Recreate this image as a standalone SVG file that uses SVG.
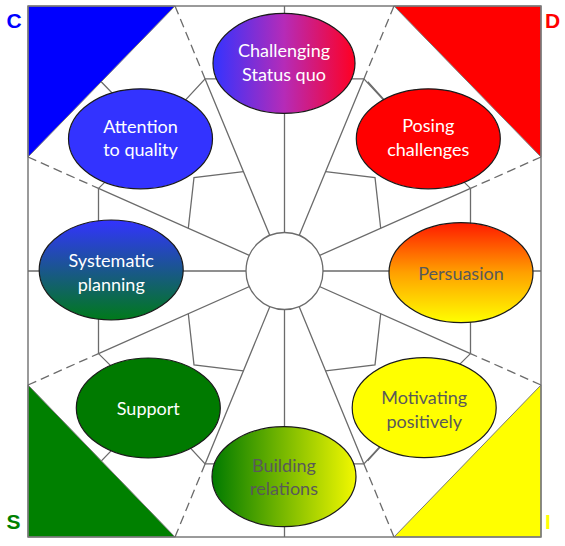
<svg xmlns="http://www.w3.org/2000/svg" width="565" height="546" viewBox="0 0 565 546">
<defs>
<style>
.ln{fill:none;stroke:#6b6b6b;stroke-width:1.3}
.dash{fill:none;stroke:#6b6b6b;stroke-width:1.3;stroke-dasharray:9,5}
.tri{stroke:#7a7a7a;stroke-width:1}
.el{stroke:#1a1a1a;stroke-width:1.2}
.t{font-family:Lato,"Open Sans","Liberation Sans",sans-serif;font-size:18px;text-anchor:middle}
.w{fill:#ffffff}
.g{fill:#595959}
.big{font-family:"Liberation Sans",Arial,sans-serif;font-weight:bold;font-size:21px}
</style>
<linearGradient id="gChal" x1="0" y1="0" x2="1" y2="0">
<stop offset="0" stop-color="#3333FF"/><stop offset="0.5" stop-color="#B52BB8"/><stop offset="1" stop-color="#FF0022"/>
</linearGradient>
<linearGradient id="gSys" x1="0" y1="0" x2="0" y2="1">
<stop offset="0" stop-color="#3333FF"/><stop offset="1" stop-color="#007A1A"/>
</linearGradient>
<linearGradient id="gPers" x1="0" y1="0" x2="0" y2="1">
<stop offset="0" stop-color="#FF1A00"/><stop offset="0.5" stop-color="#FFA000"/><stop offset="1" stop-color="#FFFF00"/>
</linearGradient>
<linearGradient id="gBuild" x1="0" y1="0" x2="1" y2="0">
<stop offset="0" stop-color="#007A00"/><stop offset="1" stop-color="#F2F800"/>
</linearGradient>
</defs>
<rect width="565" height="546" fill="#ffffff"/>
<g id="corners">
<polygon class="tri" points="28,6 175,6 28,157" fill="#0000FF"/>
<polygon class="tri" points="394,6 541,6 541,157" fill="#FF0000"/>
<polygon class="tri" points="28,385 28,537 175,537" fill="#008000"/>
<polygon class="tri" points="541,385 541,537 394,537" fill="#FFFF00"/>
</g>
<rect id="frame" x="28" y="6" width="513" height="531" fill="none" stroke="#7a7a7a" stroke-width="1.5"/>
<g id="connectors">
<path class="dash" d="M175,6L205.1,78.9M394,6L363.9,78.9M541,157L470.5,188.4M541,385L470.5,353.6M394,537L363.9,463.9M175,537L205.1,463.9M28,385L98.5,353.6M28,157L98.5,188.4"/>
<path class="ln" d="M205.1,78.9L284.5,271M363.9,78.9L284.5,271M470.5,188.4L284.5,271M470.5,353.6L284.5,271M363.9,463.9L284.5,271M205.1,463.9L284.5,271M98.5,353.6L284.5,271M98.5,188.4L284.5,271"/>
<path class="ln" d="M284.5,6V537M28,271H541"/>
<path class="ln" d="M101.2,81.7L152.9,135.1M367.8,81.7L416.1,135.1M367.6,460.9L416.1,407.5M101.4,460.9L152.9,407.5"/>
<path class="ln" d="M205.1,78.9L363.9,78.9L416.1,135.1L470.5,188.4L470.5,353.6L416.1,407.5L363.9,463.9L205.1,463.9L152.9,407.5L98.5,353.6L98.5,188.4L152.9,135.1Z"/>
<path class="ln" d="M243.4,171.6L194,177.5L188.3,228.3M325.6,171.6L375,177.5L380.7,228.3M380.7,313.8L375,364.9L325.6,370.8M188.3,313.8L194,364.9L243.4,370.8"/>
</g>
<circle id="hub" cx="284.5" cy="271" r="38.5" fill="#ffffff" stroke="#6b6b6b" stroke-width="1.3"/>
<g id="challenging">
<ellipse class="el" cx="284" cy="63.3" rx="71" ry="50" fill="url(#gChal)"/>
<text class="t w" x="284" y="57">Challenging</text>
<text class="t w" x="284" y="81">Status quo</text>
</g>
<g id="attention">
<ellipse class="el" cx="140.5" cy="138.8" rx="72" ry="50" fill="#3333FF"/>
<text class="t w" x="140.5" y="132.7">Attention</text>
<text class="t w" x="140.5" y="156.3">to quality</text>
</g>
<g id="posing">
<ellipse class="el" cx="428.3" cy="138.8" rx="72" ry="50" fill="#FF0000"/>
<text class="t w" x="428.3" y="132">Posing</text>
<text class="t w" x="428.3" y="156">challenges</text>
</g>
<g id="systematic">
<ellipse class="el" cx="111.2" cy="270" rx="72" ry="50" fill="url(#gSys)"/>
<text class="t w" x="111.2" y="267.3">Systematic</text>
<text class="t w" x="111.2" y="290.5">planning</text>
</g>
<g id="persuasion">
<ellipse class="el" cx="461" cy="272.7" rx="72" ry="50" fill="url(#gPers)"/>
<text class="t g" x="461" y="280">Persuasion</text>
</g>
<g id="support">
<ellipse class="el" cx="148.3" cy="408" rx="72" ry="50" fill="#007A00"/>
<text class="t w" x="148.3" y="415">Support</text>
</g>
<g id="motivating">
<ellipse class="el" cx="424.2" cy="407.7" rx="72" ry="50" fill="#FFFF00"/>
<text class="t g" x="424.2" y="404.3">Motivating</text>
<text class="t g" x="424.2" y="427.7">positively</text>
</g>
<g id="building">
<ellipse class="el" cx="284" cy="476.7" rx="72" ry="50" fill="url(#gBuild)"/>
<text class="t g" x="284" y="471.7">Building</text>
<text class="t g" x="284" y="495">relations</text>
</g>
<g id="labels">
<text class="big" x="6.5" y="28.3" fill="#0000FF">C</text>
<text class="big" x="545" y="28.3" fill="#FF0000">D</text>
<text class="big" x="6.5" y="529.3" fill="#008000">S</text>
<text class="big" x="545" y="528.7" fill="#FFFF00">I</text>
</g>
</svg>
